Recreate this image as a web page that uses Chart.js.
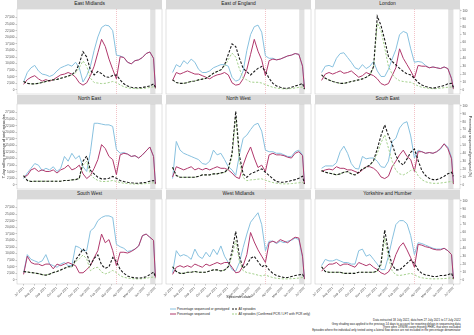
<!DOCTYPE html>
<html>
<head>
<meta charset="utf-8">
<title>Sequencing coverage by region</title>
<script src="https://cdn.jsdelivr.net/npm/chart.js@4.4.1/dist/chart.umd.min.js"></script>
<style>
  html, body { margin: 0; padding: 0; background: #fff; }
  body { position: relative; width: 474px; height: 335px; overflow: hidden; font-family: "Liberation Sans", Arial, sans-serif; color: #1a1a1a; }
  canvas { position: absolute; }
  .strip { position: absolute; height: 8.5px; line-height: 8.5px; background: #d9d9d9; font-size: 4.9px; text-align: center; white-space: nowrap; }
  .legend { position: absolute; font-size: 3.2px; line-height: 4px; white-space: nowrap; }
  .legend svg { vertical-align: middle; margin-right: 1px; }
  .notes { position: absolute; right: 13.5px; top: 319.3px; font-size: 2.9px; line-height: 3.35px; text-align: right; white-space: nowrap; color: #222; }
</style>
</head>
<body>

<div class="legend" style="left:170px;top:306.5px"><svg width="6" height="2"><line x1="0" y1="1" x2="6" y2="1" stroke="#88c1df" stroke-width="1"/></svg>Percentage sequenced or genotyped</div>
<div class="legend" style="left:170px;top:312px"><svg width="6" height="2"><line x1="0" y1="1" x2="6" y2="1" stroke="#b0386c" stroke-width="1"/></svg>Percentage sequenced</div>
<div class="legend" style="left:231.5px;top:306.5px"><svg width="6" height="2"><line x1="0" y1="1" x2="6" y2="1" stroke="#1a1a1a" stroke-width="1" stroke-dasharray="2 1"/></svg>All episodes</div>
<div class="legend" style="left:231.5px;top:312px"><svg width="6" height="2"><line x1="0" y1="1" x2="6" y2="1" stroke="#a3d08b" stroke-width="1" stroke-dasharray="2 1"/></svg>All episodes (Confirmed PCR / LFT with PCR only)</div>

<div class="notes">
Data extracted 18 July 2022, data from 27 July 2021 to 17 July 2022<br>
Grey shading was applied to the previous 14 days to account for reporting delays in sequencing data<br>
There were 199498 cases missing PHEC that were excluded<br>
Episodes where the individual only tested using a lateral flow device are not included in the percentage denominator
</div>

<script>
// days since 27 July 2021, one reading every 10 days plus the last day
const days = [0,10,20,30,40,50,60,70,80,90,100,110,120,130,140,150,160,170,180,190,200,210,220,230,240,250,260,270,280,290,300,310,320,330,340,350,355];
const monthLabels = ['Jul 2021','Aug 2021','Sep 2021','Oct 2021','Nov 2021','Dec 2021','Jan 2022','Feb 2022','Mar 2022','Apr 2022','May 2022','Jun 2022','Jul 2022'];
const episodeTicks = [0,2500,5000,7500,10000,12500,15000,17500,20000,22500,25000,27500];
const percentTicks = [0,10,20,30,40,50,60,70,80,90,100];
const regionNames = ['East Midlands','East of England','London','North East','North West','South East','South West','West Midlands','Yorkshire and Humber'];

// East Midlands
const emSeqGeno   = [10,22,28,31,24,20,19,17,19,24,28,30,32,30,35,28,10,18,30,50,67,79,82,81,75,44,43,41,35,33,37,38,41,46,48,40,3];
const emSeq       = [7,13,16,18,14,11,13,11,13,16,19,20,22,20,16,9,6,9,18,30,47,64,55,39,26,14,42,41,35,33,37,38,41,46,48,40,2];
const emEpisodes  = [3200,2500,2300,2300,2500,2800,3200,3600,3800,4000,4400,4800,5300,5800,7000,10000,14500,12500,7600,5700,7000,6200,5000,4800,5500,5700,3800,2300,1500,1000,800,800,900,1200,1500,2300,1000];
const emConfirmed = [3200,2500,2300,2300,2500,2800,3200,3600,3800,4000,4400,4800,5200,5600,6500,8500,11000,9000,4500,2800,2600,2400,2500,2800,3200,2800,1900,1200,800,600,500,500,550,700,900,1200,500];

// East of England
const eeSeqGeno   = [22,32,29,37,33,39,35,26,22,22,24,28,30,32,32,30,16,11,13,24,50,70,80,82,73,43,40,40,38,39,41,43,44,46,45,30,3];
const eeSeq       = [12,22,20,22,24,22,20,20,18,16,14,17,19,20,22,19,9,6,7,14,26,45,64,49,38,18,37,39,38,39,41,43,44,46,45,30,2];
const eeEpisodes  = [3800,2800,2500,2500,2800,3200,3400,3800,4100,4400,5300,6300,7000,7600,9500,13500,17500,16500,12000,8200,6900,5700,7000,8200,8900,7000,4400,2500,1500,1000,650,650,1000,1500,1900,2500,300];
const eeConfirmed = [3800,2800,2500,2500,2800,3200,3400,3800,4100,4400,5300,6300,7000,7600,9000,11500,14000,12500,8000,4500,3800,3000,2900,2900,2600,2000,1500,1000,700,500,400,400,550,750,950,1100,200];

// London
const loSeqGeno   = [22,30,31,29,40,46,47,41,35,28,26,32,27,30,36,24,17,17,26,39,51,70,74,72,52,35,36,35,31,28,29,28,27,29,27,15,2];
const loSeq       = [12,20,22,20,22,24,21,22,24,20,16,18,22,20,18,14,8,6,8,18,28,52,40,32,24,15,31,30,30,28,29,28,27,29,27,14,1];
const loEpisodes  = [5700,4400,3800,3200,2800,2500,2500,2800,3200,3500,3800,4200,4800,5700,8900,28000,24500,19000,12700,10800,9500,8200,7000,6100,5700,4400,2800,1900,1300,900,650,900,1300,1650,2300,2500,1000];
const loConfirmed = [5700,4400,3800,3200,2800,2500,2500,2800,3200,3500,3800,4200,4800,5600,8500,25500,22500,16000,9000,6000,4400,3500,3200,3000,2900,2200,1500,1000,800,600,450,500,650,850,1000,1100,500];

// North East
const neSeqGeno   = [8,15,21,27,25,18,21,19,23,17,21,36,30,40,33,37,23,17,42,78,78,77,76,76,74,45,40,41,39,36,37,34,38,43,48,36,2];
const neSeq       = [10,12,19,21,17,19,17,17,19,15,19,21,25,19,21,25,14,8,12,21,32,51,46,36,32,13,38,40,39,36,37,34,38,43,48,36,1];
const neEpisodes  = [3500,1700,1300,1400,1400,1400,1400,1400,1400,1400,1400,1650,1700,1900,2000,2500,9000,11000,5500,4200,2900,2300,2300,2500,3200,2500,1650,1270,1000,800,650,650,800,1000,1400,1650,650];
const neConfirmed = [3500,1700,1300,1400,1400,1400,1400,1400,1400,1400,1400,1650,1700,1900,2000,2400,7500,9000,4000,2500,1700,1300,1300,1400,1700,1300,900,650,500,400,350,350,400,500,700,800,300];

// North West
const nwSeqGeno   = [8,55,44,40,38,36,34,32,27,26,30,44,38,40,32,23,19,12,38,59,63,70,76,78,68,44,42,42,40,40,38,36,36,42,44,38,3];
const nwSeq       = [10,23,21,19,21,23,19,21,19,21,19,21,23,21,21,19,15,10,8,25,38,48,34,22,25,17,38,40,38,38,37,35,34,40,42,37,1];
const nwEpisodes  = [6700,3550,2900,2900,2900,2900,2900,3300,3800,3800,3800,4200,4200,4560,4800,6100,12000,28000,11150,4200,2900,4200,4800,5450,6100,4800,3550,2300,1270,1000,1000,1270,1650,2000,2500,3300,400];
const nwConfirmed = [6700,3550,2900,2900,2900,2900,2900,3300,3800,3800,3800,4200,4200,4500,4700,5900,10500,26000,9000,2800,1600,1900,2000,2200,2300,1800,1300,900,600,450,400,400,500,650,800,1000,300];

// South East
const seSeqGeno   = [21,24,24,24,28,42,49,40,27,21,20,36,33,34,34,30,23,22,30,55,59,72,78,80,62,34,44,42,40,41,40,42,45,52,48,35,2];
const seSeq       = [17,19,20,19,23,21,21,19,19,17,15,19,23,23,21,17,10,8,11,23,30,38,44,36,32,17,42,42,40,41,40,42,46,52,46,33,1];
const seEpisodes  = [5450,4800,4500,4200,3800,4200,4800,5070,4200,3800,4800,6100,6700,7600,9250,13700,18800,22800,18800,15600,11150,8600,7600,9900,12400,13700,9250,5450,3550,2500,2000,2000,2500,3300,4200,4800,3300];
const seConfirmed = [5450,4800,4500,4200,3800,4200,4800,5070,4200,3800,4800,6100,6700,7500,9000,12000,16000,19000,14000,9000,5500,4200,3800,4500,5500,6000,3500,2000,1200,800,600,600,700,900,1100,1300,800];

// South West
const swSeqGeno   = [9,32,26,24,22,24,32,20,18,16,20,22,18,18,43,41,37,37,62,66,75,79,81,81,79,45,42,40,36,37,39,43,56,58,54,50,3];
const swSeq       = [7,30,22,20,20,18,20,20,14,20,18,20,22,20,18,9,9,13,18,28,37,58,47,51,37,18,35,35,34,36,39,43,56,58,54,50,3];
const swEpisodes  = [3200,3000,2800,2600,2400,2000,1800,2200,2800,3200,3800,4400,5000,5000,7600,9500,11800,10100,5700,8200,9500,5700,4400,5000,8500,7000,4000,2500,1500,1000,800,700,800,1200,2000,3000,1200];
const swConfirmed = [3200,3000,2800,2600,2400,2000,1800,2200,2800,3200,3800,4400,5000,4900,7000,8000,9500,8000,3500,4500,4800,3000,2300,2800,3600,2800,1600,1000,700,500,400,400,450,600,900,1100,500];

// West Midlands
const wmSeqGeno   = [9,37,30,32,30,26,39,30,27,35,29,39,32,43,30,22,13,11,22,41,58,73,79,85,70,37,49,49,46,49,47,49,50,53,51,28,2];
const wmSeq       = [7,16,18,16,18,16,20,18,16,20,18,20,22,20,22,22,16,9,10,18,32,60,48,38,30,22,47,49,47,51,49,47,51,54,53,30,1];
const wmEpisodes  = [5000,3200,2500,2500,2900,2900,3200,2900,2900,2900,3400,3800,3800,3400,3800,5000,10800,18400,8900,4400,5700,8200,8900,7000,5000,5700,3800,2500,1650,1270,900,900,1270,1650,1900,2150,630];
const wmConfirmed = [5000,3200,2500,2500,2900,2900,3200,2900,2900,2900,3400,3800,3800,3400,3700,4800,9000,15000,7000,3500,2800,2500,2200,1800,1500,1900,1300,900,600,450,400,400,450,550,700,900,300];

// Yorkshire and Humber
const yhSeqGeno   = [18,26,24,24,26,24,22,22,20,20,37,39,30,32,26,20,13,13,30,51,70,75,75,71,56,32,47,46,44,42,40,39,39,40,37,32,2];
const yhSeq       = [11,16,20,20,22,18,20,20,18,16,22,20,18,20,16,13,9,7,10,18,32,42,47,38,28,16,45,44,42,41,39,38,38,40,37,32,1];
const yhEpisodes  = [5000,3200,2900,2900,2900,2900,2500,2500,2500,2500,2900,2900,2900,2900,2900,3400,6300,19000,10800,5700,3800,3800,5000,6300,7600,6300,3800,2500,1900,1650,1270,1270,1650,1650,1900,2500,630];
const yhConfirmed = [5000,3200,2900,2900,2900,2900,2500,2500,2500,2500,2900,2900,2900,2900,2900,3300,5500,16000,8500,3500,1900,1700,1900,2200,2500,2000,1200,800,600,450,400,400,450,500,650,800,300];

const panels = [
  [emSeqGeno, emSeq, emEpisodes, emConfirmed],
  [eeSeqGeno, eeSeq, eeEpisodes, eeConfirmed],
  [loSeqGeno, loSeq, loEpisodes, loConfirmed],
  [neSeqGeno, neSeq, neEpisodes, neConfirmed],
  [nwSeqGeno, nwSeq, nwEpisodes, nwConfirmed],
  [seSeqGeno, seSeq, seEpisodes, seConfirmed],
  [swSeqGeno, swSeq, swEpisodes, swConfirmed],
  [wmSeqGeno, wmSeq, wmEpisodes, wmConfirmed],
  [yhSeqGeno, yhSeq, yhEpisodes, yhConfirmed]
];

// layout of the 3x3 grid (plot area of each panel)
const colLeft = [17, 166, 315];
const rowTop = [9, 104, 199];
const PW = 145, PH = 85, ML = 17, MR = 14, MT = 3, MB = 15;
const lastDay = 355, shadeFrom = 341, testingChange = 250;
const dayMin = -0.05 * lastDay, dayMax = lastDay * 1.05;
const tickDays = monthLabels.map((_, i) => i * lastDay / (monthLabels.length - 1));
const family = '"Liberation Sans", Arial, sans-serif';

// grey shading for the last 14 days, dotted red line and panel border
const panelDecor = {
  id: 'panelDecor',
  beforeDatasetsDraw(chart) {
    const { ctx, chartArea: a, scales: { x } } = chart;
    ctx.save();
    const x0 = x.getPixelForValue(shadeFrom), x1 = x.getPixelForValue(lastDay);
    ctx.fillStyle = 'rgba(215,215,215,0.75)';
    ctx.fillRect(x0, a.top, x1 - x0, a.bottom - a.top);
    const xr = x.getPixelForValue(testingChange);
    ctx.strokeStyle = '#eb9aa3';
    ctx.lineWidth = 0.6;
    ctx.setLineDash([1, 1]);
    ctx.beginPath();
    ctx.moveTo(xr, a.top);
    ctx.lineTo(xr, a.bottom);
    ctx.stroke();
    ctx.restore();
  },
  afterDraw(chart) {
    const { ctx, chartArea: a } = chart;
    ctx.save();
    ctx.strokeStyle = '#c4c4c4';
    ctx.lineWidth = 0.5;
    ctx.strokeRect(a.left, a.top, a.right - a.left, a.bottom - a.top);
    ctx.restore();
  }
};

regionNames.forEach((name, i) => {
  const r = Math.floor(i / 3), c = i % 3;

  const cv = document.createElement('canvas');
  cv.width = ML + PW + MR;
  cv.height = MT + PH + MB;
  cv.style.left = (colLeft[c] - ML) + 'px';
  cv.style.top = (rowTop[r] - MT) + 'px';
  document.body.appendChild(cv);

  const strip = document.createElement('div');
  strip.className = 'strip';
  strip.textContent = name;
  strip.style.left = colLeft[c] + 'px';
  strip.style.top = (rowTop[r] - 9) + 'px';
  strip.style.width = PW + 'px';
  document.body.appendChild(strip);

  const [seqGeno, seq, episodes, confirmed] = panels[i];
  const pts = arr => days.map((d, k) => ({ x: d, y: arr[k] }));

  new Chart(cv, {
    type: 'line',
    data: {
      datasets: [
        { label: 'All episodes', data: pts(episodes), yAxisID: 'y', borderColor: '#1a1a1a', borderWidth: 1.1, borderDash: [2.6, 1.6] },
        { label: 'All episodes (Confirmed PCR / LFT with PCR only)', data: pts(confirmed), yAxisID: 'y', borderColor: '#a3d08b', borderWidth: 1, borderDash: [2.2, 1.6] },
        { label: 'Percentage sequenced', data: pts(seq), yAxisID: 'y2', borderColor: '#b0386c', borderWidth: 1 },
        { label: 'Percentage sequenced or genotyped', data: pts(seqGeno), yAxisID: 'y2', borderColor: '#88c1df', borderWidth: 1 }
      ]
    },
    options: {
      responsive: false,
      animation: false,
      events: [],
      layout: { padding: { top: MT, left: 0, right: 0, bottom: 0 } },
      elements: { point: { radius: 0 }, line: { tension: 0 } },
      plugins: { legend: { display: false }, tooltip: { enabled: false } },
      scales: {
        x: {
          type: 'linear', min: dayMin, max: dayMax,
          afterBuildTicks: s => { s.ticks = tickDays.map(v => ({ value: v })); },
          afterFit: s => { s.height = MB; s.paddingLeft = 0; s.paddingRight = 0; },
          ticks: {
            display: r === 2, autoSkip: false, minRotation: 45, maxRotation: 45, padding: 0.5,
            color: '#4d4d4d', font: { family, size: 3.2 },
            callback: (v, k) => monthLabels[k]
          },
          grid: { drawOnChartArea: false, drawTicks: r === 2, tickLength: 1.5, color: '#666', lineWidth: 0.4 },
          border: { display: false },
          title: { display: r === 2 && c === 1, text: 'Specimen date', color: '#1a1a1a', font: { family, size: 3.7 }, padding: 0 }
        },
        y: {
          position: 'left', min: -1560, max: 30770,
          afterBuildTicks: s => { s.ticks = episodeTicks.map(v => ({ value: v })); },
          afterFit: s => { s.width = ML; s.paddingTop = 0; s.paddingBottom = 0; },
          ticks: {
            display: c === 0, padding: 1, color: '#4d4d4d', font: { family, size: 3 },
            callback: v => v.toLocaleString('en-US')
          },
          grid: { drawOnChartArea: false, drawTicks: c === 0, tickLength: 1.5, color: '#666', lineWidth: 0.4 },
          border: { display: false },
          title: { display: r === 1 && c === 0, text: '7-day rolling average of total episodes', color: '#1a1a1a', font: { family, size: 3.8 }, padding: { top: 1.5, bottom: 0 } }
        },
        y2: {
          position: 'right', min: -5.2, max: 102.4,
          afterBuildTicks: s => { s.ticks = percentTicks.map(v => ({ value: v })); },
          afterFit: s => { s.width = MR; s.paddingTop = 0; s.paddingBottom = 0; },
          ticks: { display: c === 2, padding: 1, color: '#4d4d4d', font: { family, size: 3 } },
          grid: { drawOnChartArea: false, drawTicks: c === 2, tickLength: 1.5, color: '#666', lineWidth: 0.4 },
          border: { display: false },
          title: { display: r === 1 && c === 2, text: 'Percentage sequenced/genotyped (%)', color: '#1a1a1a', font: { family, size: 3.6 }, padding: { top: 1.5, bottom: 0 } }
        }
      }
    },
    plugins: [panelDecor]
  });
});
</script>
</body>
</html>
